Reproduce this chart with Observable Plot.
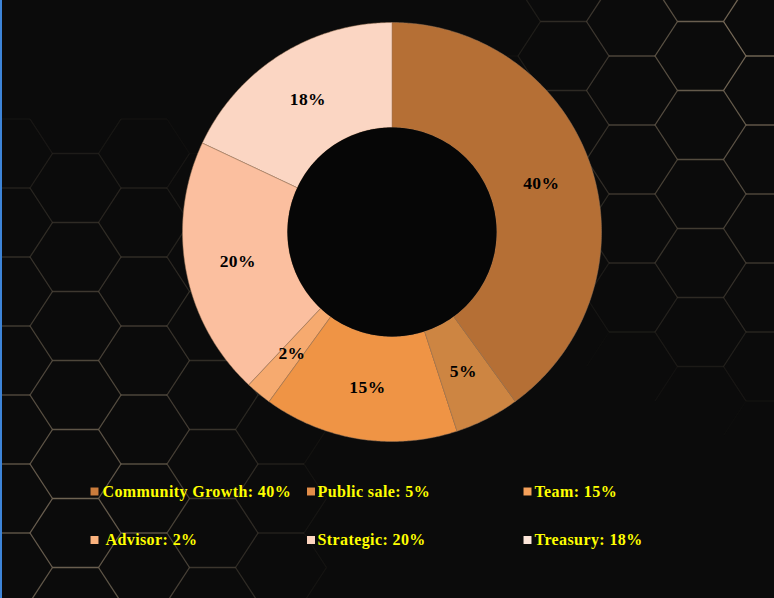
<!DOCTYPE html>
<html>
<head>
<meta charset="utf-8">
<style>
html,body{margin:0;padding:0;background:#0b0b0b;overflow:hidden}
svg{display:block}
</style>
<script src="https://cdn.jsdelivr.net/npm/d3@7"></script>
<script src="https://cdn.jsdelivr.net/npm/@observablehq/plot@0.6"></script>
</head>
<body>
<div id="chart"></div>
<script>
// Data
const categories = ["Community Growth", "Public sale", "Team", "Advisor", "Strategic", "Treasury"];
const shares = [40, 5, 15, 2, 20, 18];
const colors = ["#b56f35", "#cd8542", "#ef9445", "#f6aa6f", "#fbbf9f", "#fbd6c3"];
const swatchColors = ["#cb7c3c", "#e28d49", "#f5a05a", "#fab27e", "#fdd5c0", "#fde6da"];

// Layout
const W = 774, H = 598;
const CX = 391.5, CY = 231.5, R = 209.5, R0 = 104.5;
const legendCols = [[94, 102], [310.5, 317], [527, 534]];
const legendRows = [491, 539.5];
const serif = "'Liberation Serif', serif";

const total = d3.sum(shares);
const polar = (r, turn) => [CX + r * Math.sin(turn * 2 * Math.PI), CY - r * Math.cos(turn * 2 * Math.PI)];

// Slices: ring polygons derived from the shares
let cum = 0;
const slices = categories.map((name, i) => {
  const a0 = cum / total; cum += shares[i]; const a1 = cum / total;
  return {name, value: shares[i], a0, a1, mid: (a0 + a1) / 2};
});
const ring = slices.flatMap(s => {
  const n = Math.max(4, Math.ceil((s.a1 - s.a0) * 720));
  const ts = d3.range(n + 1).map(k => s.a0 + (s.a1 - s.a0) * k / n);
  return [...ts.map(t => polar(R, t)), ...ts.reverse().map(t => polar(R0, t))]
    .map(([x, y]) => ({name: s.name, x, y}));
});
const labels = slices.map(s => {
  const [x, y] = polar((R + R0) / 2, s.mid);
  return {x, y, text: s.value + "%"};
});
const legend = slices.map((s, i) => ({
  name: s.name,
  swatch: swatchColors[i],
  sx: legendCols[i % 3][0],
  tx: legendCols[i % 3][1] + (s.name === "Advisor" ? 3 : 0),
  y: legendRows[Math.floor(i / 3)],
  text: `${s.name}: ${s.value}%`
}));

// Background hexagon decoration: two offset lattices that fade out
function lattice(x0, y0, fade) {
  const segs = [], px = 68.5, py = 69, side = 46;
  for (let c = -10; c <= 10; c++) for (let m = -10; m <= 10; m++) {
    const x = x0 + c * px, y = y0 + m * py + (Math.abs(c) % 2 ? py / 2 : 0);
    segs.push([x, y, x + side, y], [x + side, y, x + px, y + py / 2], [x + side, y, x + px, y - py / 2]);
  }
  return segs.map(([x1, y1, x2, y2]) => ({x1, y1, x2, y2, o: fade((x1 + x2) / 2, (y1 + y2) / 2)}))
    .filter(d => d.o > 0);
}
const hexLeft = lattice(52, 429, (x, y) => y < 108 ? 0 : 0.8 * (1 - Math.hypot((x - 70) * 1.65, y - 520) / 450));
const hexRight = lattice(677, 21, (x, y) => 0.85 * (1 - Math.hypot((x - 740) * 1.5, y - 40) / 390));
const hex = [...hexLeft, ...hexRight];

const plot = Plot.plot({
  width: W, height: H,
  margin: 0,
  x: {domain: [0, W], range: [0, W], axis: null},
  y: {domain: [0, H], range: [0, H], axis: null},
  color: {domain: categories, range: colors},
  opacity: {type: "identity"},
  style: {background: "#0b0b0b", letterSpacing: "0.4px"},
  marks: [
    Plot.link(hex, {x1: "x1", y1: "y1", x2: "x2", y2: "y2", stroke: "#8f806a", strokeOpacity: "o", strokeWidth: 1.3}),
    Plot.line(ring, {x: "x", y: "y", z: "name", fill: "name", stroke: "#9a7659", strokeWidth: 0.5, curve: "linear-closed"}),
    Plot.dot([{x: CX, y: CY}], {x: "x", y: "y", r: R0, fill: "#060606"}),
    Plot.text(labels, {x: "x", y: "y", text: "text", fill: "#000", fontFamily: serif, fontWeight: "bold", fontSize: 17.5}),
    Plot.dot(legend, {x: "sx", y: "y", symbol: "square", r: 4.5, fill: d => d.swatch}),
    Plot.text(legend, {x: "tx", y: "y", text: "text", fill: "#ffff00", textAnchor: "start", fontFamily: serif, fontWeight: "bold", fontSize: 16}),
    Plot.ruleX([0.5], {stroke: "#3d84d8", strokeWidth: 2})
  ]
});
document.getElementById("chart").append(plot);
</script>
</body>
</html>
